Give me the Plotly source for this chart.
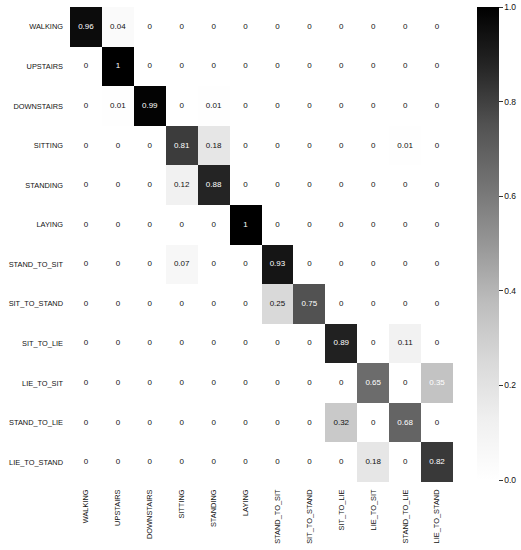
import plotly.graph_objects as go

labels = ["WALKING", "UPSTAIRS", "DOWNSTAIRS", "SITTING", "STANDING", "LAYING",
          "STAND_TO_SIT", "SIT_TO_STAND", "SIT_TO_LIE", "LIE_TO_SIT",
          "STAND_TO_LIE", "LIE_TO_STAND"]

# rows = true class, columns = predicted class
row_walking = [0.96, 0.04, 0, 0, 0, 0, 0, 0, 0, 0, 0, 0]
row_upstairs = [0, 1, 0, 0, 0, 0, 0, 0, 0, 0, 0, 0]
row_downstairs = [0, 0.01, 0.99, 0, 0.01, 0, 0, 0, 0, 0, 0, 0]
row_sitting = [0, 0, 0, 0.81, 0.18, 0, 0, 0, 0, 0, 0.01, 0]
row_standing = [0, 0, 0, 0.12, 0.88, 0, 0, 0, 0, 0, 0, 0]
row_laying = [0, 0, 0, 0, 0, 1, 0, 0, 0, 0, 0, 0]
row_stand_to_sit = [0, 0, 0, 0.07, 0, 0, 0.93, 0, 0, 0, 0, 0]
row_sit_to_stand = [0, 0, 0, 0, 0, 0, 0.25, 0.75, 0, 0, 0, 0]
row_sit_to_lie = [0, 0, 0, 0, 0, 0, 0, 0, 0.89, 0, 0.11, 0]
row_lie_to_sit = [0, 0, 0, 0, 0, 0, 0, 0, 0, 0.65, 0, 0.35]
row_stand_to_lie = [0, 0, 0, 0, 0, 0, 0, 0, 0.32, 0, 0.68, 0]
row_lie_to_stand = [0, 0, 0, 0, 0, 0, 0, 0, 0, 0.18, 0, 0.82]

matrix = [row_walking, row_upstairs, row_downstairs, row_sitting, row_standing,
          row_laying, row_stand_to_sit, row_sit_to_stand, row_sit_to_lie,
          row_lie_to_sit, row_stand_to_lie, row_lie_to_stand]

# matplotlib "Greys"
greys = [[0.0, "#ffffff"], [0.125, "#f0f0f0"], [0.25, "#d9d9d9"],
         [0.375, "#bdbdbd"], [0.5, "#969696"], [0.625, "#737373"],
         [0.75, "#525252"], [0.875, "#252525"], [1.0, "#000000"]]

FONT = "Liberation Sans, Arial, sans-serif"
n = len(labels)

fig = go.Figure()
fig.add_trace(go.Heatmap(
    z=matrix, x=labels, y=labels,
    colorscale=greys, zmin=0, zmax=1,
    hoverinfo="skip",
    colorbar=dict(
        x=1.0627, xanchor="left", y=1, yanchor="top", xpad=0, ypad=0,
        thickness=22, len=473, lenmode="pixels",
        outlinewidth=0, ticks="outside", ticklen=4, tickwidth=1,
        tickcolor="#333", tickvals=[0, 0.2, 0.4, 0.6, 0.8, 1.0],
        ticktext=["0.0", "0.2", "0.4", "0.6", "0.8", "1.0"],
        tickfont=dict(size=8.5, color="#111", family=FONT),
    ),
))

xs, ys, txt, cols = [], [], [], []
for i, row in enumerate(matrix):
    for j, v in enumerate(row):
        xs.append(labels[j])
        ys.append(labels[i])
        txt.append(f"{v:g}")
        cols.append("white" if v >= 0.35 else "#111")

fig.add_trace(go.Scatter(
    x=xs, y=ys, mode="text", text=txt,
    textfont=dict(size=8, color=cols, family=FONT),
    hoverinfo="skip", showlegend=False,
))

fig.update_layout(
    width=521, height=550,
    margin=dict(l=70, r=68, t=7, b=68, autoexpand=False),
    paper_bgcolor="white", plot_bgcolor="white",
    font=dict(family=FONT, size=8, color="#111"),
    xaxis=dict(showgrid=False, zeroline=False, tickangle=-90, automargin=False,
               range=[-0.5, n - 0.5], ticks="", ticklabelstandoff=5,
               tickfont=dict(size=7.4)),
    yaxis=dict(showgrid=False, zeroline=False, automargin=False,
               range=[n - 0.5, -0.5], ticks="", ticklabelstandoff=6,
               tickfont=dict(size=7.4)),
)

# drop the browser's default 8px body margin so the figure sits at (0, 0)
fig.write_html("out.html", config={"displayModeBar": False},
               post_script="document.body.style.margin='0';")
